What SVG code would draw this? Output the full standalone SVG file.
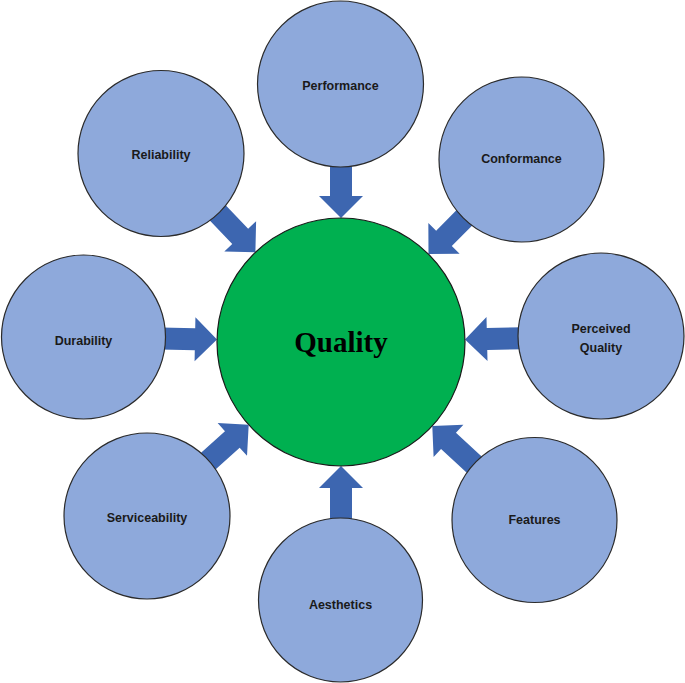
<svg xmlns="http://www.w3.org/2000/svg" width="685" height="683" viewBox="0 0 685 683">
<style>
.node{fill:#8EA9DB;stroke:#2b2b2b;stroke-width:1.2}
.main{fill:#00B050;stroke:#1a1a1a;stroke-width:1.2}
.arrow{fill:#3D66B0}
.lbl{font-family:"Liberation Sans",Arial,sans-serif;font-weight:bold;font-size:12.5px;fill:#1a1a1a;text-anchor:middle}
.title{font-family:"Liberation Serif","Times New Roman",serif;font-weight:bold;font-size:29px;fill:#000;text-anchor:middle}
</style>
<defs>
<path id="arr56" d="M0,0 L-22,-22 L-22,-11 L-56,-11 L-56,11 L-22,11 L-22,22 Z"/>
<path id="arr58" d="M0,0 L-22,-22 L-22,-11 L-59,-11 L-59,11 L-22,11 L-22,22 Z"/>
<path id="arr61" d="M0,0 L-22,-22 L-22,-11 L-61,-11 L-61,11 L-22,11 L-22,22 Z"/>
</defs>
<rect width="685" height="683" fill="#fff"/>
<g id="connectors" class="arrow">
<use href="#arr56" transform="translate(341,218) rotate(90)"/>
<use href="#arr56" transform="translate(428.5,254) rotate(134.7)"/>
<use href="#arr58" transform="translate(465,339.5) rotate(178.7)"/>
<use href="#arr61" transform="translate(432.3,426) rotate(-137.4)"/>
<use href="#arr56" transform="translate(341,466) rotate(-90)"/>
<use href="#arr58" transform="translate(248.7,424.8) rotate(-41.9)"/>
<use href="#arr56" transform="translate(217,339.6) rotate(1.1)"/>
<use href="#arr58" transform="translate(255.4,252.3) rotate(46.3)"/>
</g>
<g id="quality">
<circle class="main" cx="341" cy="342" r="124"/>
<text class="title" x="341" y="352">Quality</text>
</g>
<g id="performance">
<circle class="node" cx="340.5" cy="84" r="83"/>
<text class="lbl" x="340.5" y="90">Performance</text>
</g>
<g id="conformance">
<circle class="node" cx="521.5" cy="159.5" r="82.5"/>
<text class="lbl" x="521.5" y="163">Conformance</text>
</g>
<g id="perceived-quality">
<circle class="node" cx="601" cy="336" r="83"/>
<text class="lbl" x="601" y="333">Perceived</text>
<text class="lbl" x="601" y="352">Quality</text>
</g>
<g id="features">
<circle class="node" cx="534.5" cy="520" r="82.5"/>
<text class="lbl" x="534.5" y="524">Features</text>
</g>
<g id="aesthetics">
<circle class="node" cx="340.5" cy="600" r="82"/>
<text class="lbl" x="340.5" y="609">Aesthetics</text>
</g>
<g id="serviceability">
<circle class="node" cx="147" cy="516" r="83"/>
<text class="lbl" x="147" y="522">Serviceability</text>
</g>
<g id="durability">
<circle class="node" cx="83.5" cy="337" r="82"/>
<text class="lbl" x="83.5" y="345">Durability</text>
</g>
<g id="reliability">
<circle class="node" cx="161" cy="153.5" r="83"/>
<text class="lbl" x="161" y="159">Reliability</text>
</g>
</svg>
